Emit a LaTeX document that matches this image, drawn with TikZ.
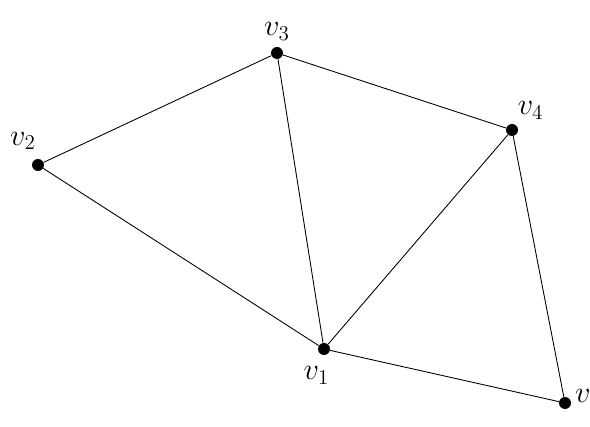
\documentclass[tikz,border=0pt]{standalone}
\usepackage{amsmath}
\usepackage{tikz}

\begin{document}
\begin{tikzpicture}[vertex/.style={circle,fill=black,inner sep=0pt,minimum size=0.24cm},
  every label/.style={font=\LARGE,inner sep=2pt}]
\useasboundingbox (0,0) rectangle (11.8,8.54);
\node[vertex,label={[yshift=0.05cm]above:$v_3$}] (v3) at (5.54,7.48) {};
\node[vertex,label={[xshift=-0.3cm,yshift=0.1cm]above:$v_2$}] (v2) at (0.76,5.24) {};
\node[vertex,label={[xshift=-0.05cm,yshift=0.05cm]above right:$v_4$}] (v4) at (10.24,5.94) {};
\node[vertex,label={[xshift=-0.15cm,yshift=-0.15cm]below:$v_1$}] (v1) at (6.48,1.56) {};
\node[vertex,label={[yshift=0.1cm]right:$v_5$}] (v5) at (11.30,0.48) {};

\draw[line width=0.5pt] (v2) -- (v3);
\draw[line width=0.5pt] (v3) -- (v4);
\draw[line width=0.5pt] (v2) -- (v1);
\draw[line width=0.5pt] (v3) -- (v1);
\draw[line width=0.5pt] (v4) -- (v1);
\draw[line width=0.5pt] (v4) -- (v5);
\draw[line width=0.5pt] (v1) -- (v5);
\end{tikzpicture}
\end{document}
